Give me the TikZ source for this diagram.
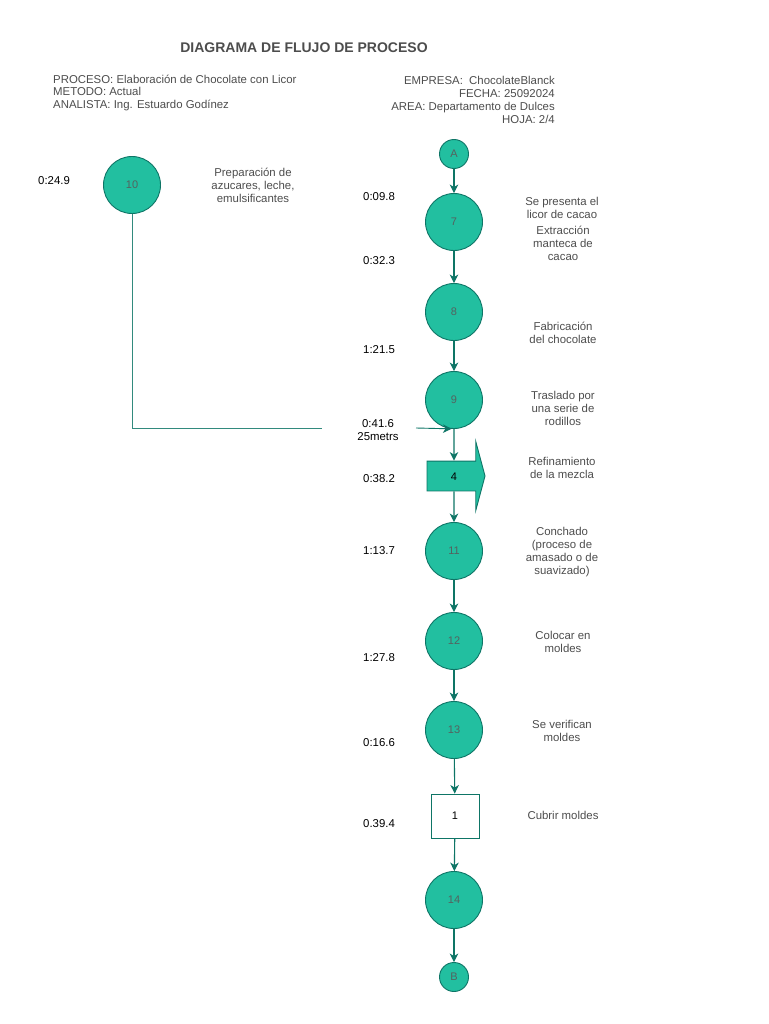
\documentclass[tikz,border=0pt]{standalone}
\usepackage{fontspec}
\setmainfont{Liberation Sans}
\usetikzlibrary{arrows.meta,shapes.arrows}
\definecolor{jade}{HTML}{22BFA0}
\definecolor{pine}{HTML}{0E7566}
\definecolor{slate}{HTML}{4D4D4D}
\definecolor{numgray}{HTML}{54625F}

\tikzset{
  opcirc/.style={circle,draw=pine,line width=0.9pt,fill=jade,minimum size=57pt,inner sep=0pt,text=numgray,font=\fontsize{11}{12}\selectfont},
  linkcirc/.style={opcirc,minimum size=29pt},
  flowarrow/.style={-{Stealth[length=8.5pt,width=8.5pt,inset=2.5pt]},pine,line width=1.1pt},
  tieline/.style={pine!85,line width=0.9pt},
  desc/.style={align=center,text=slate,font=\fontsize{11.4}{13}\selectfont,inner sep=0pt},
  timelbl/.style={anchor=west,align=center,font=\fontsize{11.4}{13}\selectfont,inner sep=0pt},
  hdr/.style={inner sep=0pt,text=slate,font=\fontsize{11.4}{13}\selectfont},
}

\begin{document}
\begin{tikzpicture}[x=1pt,y=-1pt]
\useasboundingbox[fill=white] (0,0) rectangle (768,1024);

% encabezado
\node[hdr,font=\bfseries\fontsize{14}{16}\selectfont] (title) at (304,47.5) {DIAGRAMA DE FLUJO DE PROCESO};
\node[hdr,anchor=north west,align=left,font=\fontsize{11.4}{12.7}\selectfont] (hdrl) at (53,74.5) {PROCESO: Elaboración de Chocolate con Licor\\METODO: Actual\\ANALISTA: Ing. Estuardo Godínez};
\node[hdr,anchor=north east,align=right] (hdrr) at (555,76) {EMPRESA:\ \ ChocolateBlanck\\FECHA: 25092024\\AREA: Departamento de Dulces\ \\HOJA: 2/4};

% rama izquierda
\node[opcirc] (c10) at (132,185) {10};
\node[timelbl] (t10) at (38,181) {0:24.9};
\node[desc] (d10) at (253,185) {Preparación de\\azucares, leche,\\emulsificantes};

% linea principal
\node[linkcirc] (ca) at (454,154) {A};
\node[opcirc] (c7) at (454,222) {7};
\node[opcirc] (c8) at (454,312) {8};
\node[opcirc] (c9) at (454,400) {9};
\node[single arrow,draw=pine,fill=jade,line width=0.9pt,minimum height=58pt,single arrow head extend=19.5pt,single arrow tip angle=150,inner xsep=2pt,inner ysep=10.5pt,text height=8pt,text depth=0pt,font=\fontsize{11}{12}\selectfont] (o4) at (454,476) {4};
\node[opcirc] (c11) at (454,551) {11};
\node[opcirc] (c12) at (454,641) {12};
\node[opcirc] (c13) at (454,730) {13};
\node[rectangle,draw=pine,fill=white,line width=0.9pt,minimum width=48pt,minimum height=44pt,font=\fontsize{11}{12}\selectfont] (o1) at (455,816) {1};
\node[opcirc] (c14) at (454,900) {14};
\node[linkcirc] (cb) at (454,977) {B};

\draw[flowarrow] (ca) -- (c7);
\draw[flowarrow] (c7) -- (c8);
\draw[flowarrow] (c8) -- (c9);
\draw[flowarrow] (c9) -- (o4.north);
\draw[flowarrow] (o4.south) -- (c11);
\draw[flowarrow] (c11) -- (c12);
\draw[flowarrow] (c12) -- (c13);
\draw[flowarrow] (c13) -- (o1);
\draw[flowarrow] (o1) -- (c14);
\draw[flowarrow] (c14) -- (cb);

% union de la rama 10
\coordinate (j1) at (322,428);
\coordinate (j2) at (416,428);
\draw[tieline] (c10) |- (j1);
\draw[flowarrow,line width=0.9pt] (j2) -- (c9.-95);

% tiempos
\node[timelbl] (t7a) at (363,197) {0:09.8};
\node[timelbl] (t7b) at (363,261) {0:32.3};
\node[timelbl] (t8) at (363,350) {1:21.5};
\node[timelbl,anchor=center] (t9) at (378,430) {0:41.6\\25metrs};
\node[timelbl] (t4) at (363,479) {0:38.2};
\node[timelbl] (t11) at (363,551) {1:13.7};
\node[timelbl] (t12) at (363,658) {1:27.8};
\node[timelbl] (t13) at (363,743) {0:16.6};
\node[timelbl] (t1) at (363,824) {0.39.4};

% descripciones
\node[desc] (d7a) at (562,207.5) {Se presenta el\\licor de cacao};
\node[desc] (d7b) at (563,243) {Extracción\\manteca de\\cacao};
\node[desc] (d8) at (563,332.5) {Fabricación\\del chocolate};
\node[desc] (d9) at (563,408) {Traslado por\\una serie de\\rodillos};
\node[desc] (d4) at (562,467.5) {Refinamiento\\de la mezcla};
\node[desc] (d11) at (562,552.5) {Conchado\\(proceso de\\amasado o de\\suavizado)};
\node[desc] (d12) at (563,641.5) {Colocar en\\moldes};
\node[desc] (d13) at (562,731) {Se verifican\\moldes};
\node[desc] (d1) at (563,815) {Cubrir moldes};
\end{tikzpicture}
\end{document}
